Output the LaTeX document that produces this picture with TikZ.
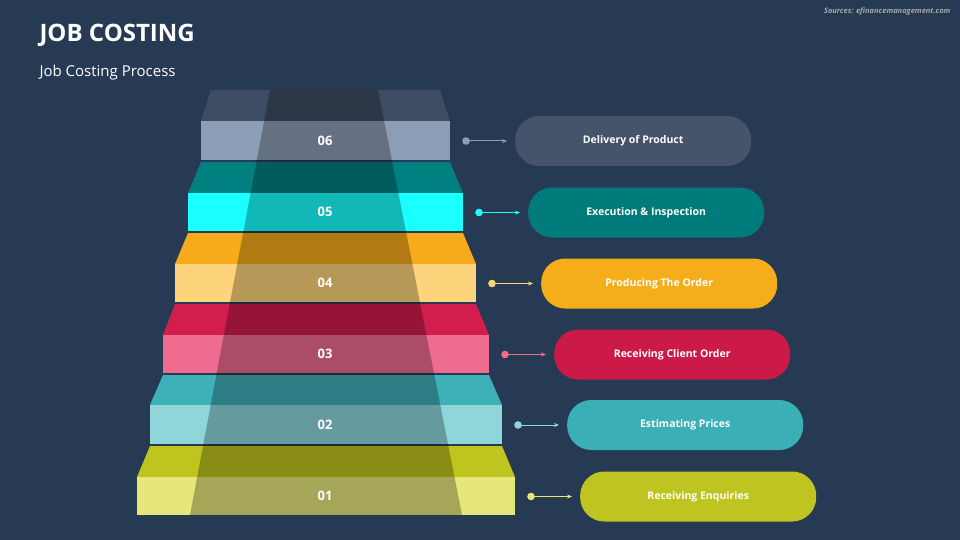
\documentclass[tikz,border=0pt]{standalone}
\usepackage{fontspec}
\setmainfont{Open Sans}
\usetikzlibrary{arrows.meta}
\begin{document}
\begin{tikzpicture}[x=1pt,y=-1pt,
  pill/.style={rounded corners=24pt,minimum width=236pt,minimum height=50pt,inner sep=0pt,text=white,font=\fontsize{10.5}{12}\selectfont\bfseries},
  num/.style={text=white,font=\fontsize{13}{15}\selectfont\bfseries},
  arr/.style={-{Stealth[length=5pt,width=4pt]},line width=1pt}]
\fill[fill={rgb,255:red,38;green,58;blue,83}] (0,0) rectangle (960,540);
\useasboundingbox (0,0) rectangle (960,540);
\node[anchor=west,text=white,font=\fontsize{24}{28}\selectfont\bfseries] (title) at (36,35) {JOB COSTING};
\node[anchor=west,text=white,font=\fontsize{15}{18}\selectfont] (sub) at (36,73) {Job Costing Process};
\node[anchor=east,text=gray!70,font=\fontsize{7.5}{9}\selectfont\bfseries\itshape] (src) at (954,12) {Sources: efinancemanagement.com};
\foreach \yt/\ym/\yb/\fl/\fr/\tl/\tr/\tc/\fc in {
 90/121/160/201/450/211/440/3E4D63/8C9DB6,
 162/193/231/188/463/201/450/008080/1AFFFF,
 233/264/302/175/476/188/463/F7AA1A/FDD37C,
 304/335/373/163/489/175/476/D11E4C/EE6C8F,
 375/405/444/150/502/163/489/3DB0B8/8FD6DB,
 446/477/515/137/515/150/502/BFC41E/E5E77B}{
  \definecolor{tc}{HTML}{\tc}\definecolor{fc}{HTML}{\fc}
  \fill[tc] (\tl,\yt) -- (\tr,\yt) -- (\fr,\ym) -- (\fl,\ym) -- cycle;
  \fill[fc] (\fl,\ym) rectangle (\fr,\yb);
}
\fill[black,opacity=0.28] (270,90) -- (378,90) -- (462,515) -- (190,515) -- cycle;
\foreach \ym/\yb/\fr/\pc/\dc/\lab/\txt in {
 121/160/450/45546A/8C9DB6/06/Delivery of Product,
 193/231/463/007B7B/1AFFFF/05/Execution \& Inspection,
 264/302/476/F5AE1A/FDD37C/04/Producing The Order,
 335/373/489/CC1A48/EE6C8F/03/Receiving Client Order,
 405/444/502/3AAFB5/8FD6DB/02/Estimating Prices,
 477/515/515/BFC420/E5E77B/01/Receiving Enquiries}{
  \definecolor{pc}{HTML}{\pc}\definecolor{dc}{HTML}{\dc}
  \node[num] (n\lab) at (325,{(\ym+\yb)/2}) {\lab};
  \node[pill,fill=pc,anchor=west] (p\lab) at ({\fr+65},{(\ym+\yb)/2+0.5}) {\txt};
  \coordinate (d\lab) at ({\fr+16},{(\ym+\yb)/2+0.5});
  \fill[dc] (d\lab) circle (3.8pt);
  \draw[arr,dc] (d\lab) -- ([xshift=-8pt]p\lab.west);
}
\end{tikzpicture}
\end{document}
